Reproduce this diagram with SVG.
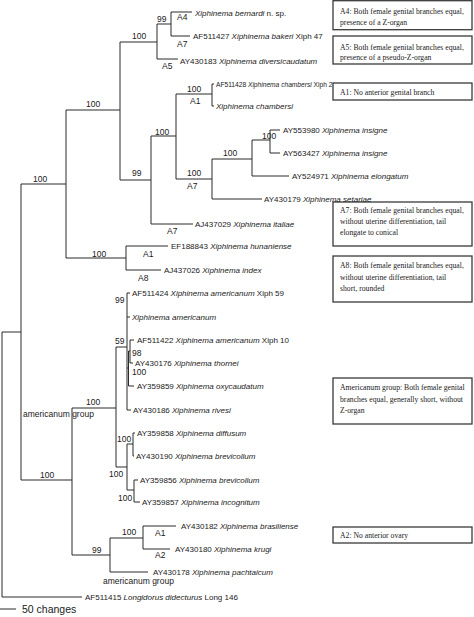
<svg xmlns="http://www.w3.org/2000/svg" width="474" height="617" viewBox="0 0 474 617">
<style>
.t{font-family:"Liberation Sans",Arial,Helvetica,sans-serif;font-size:8px;fill:#1a1a1a}
.n{font-family:"Liberation Sans",Arial,Helvetica,sans-serif;font-size:8.5px;fill:#1a1a1a}
.i{font-style:italic}
.bx{fill:#fff;stroke:#3a3a3a;stroke-width:1.3}
.bt{font-family:"Liberation Serif","Times New Roman",serif;font-size:7.7px;fill:#222}
.e{fill:none;stroke:#2a2a2a;stroke-width:1}
</style>
<rect width="474" height="617" fill="#fff"/>
<g id="box-a4"><rect class="bx" x="333" y="0.7" width="139" height="29"/>
<text class="bt" x="340" y="14">A4: Both female genital branches equal,</text>
<text class="bt" x="340" y="24.5">presence of a Z-organ</text></g>
<g id="box-a5"><rect class="bx" x="333" y="36" width="139" height="28"/>
<text class="bt" x="340" y="49.5">A5: Both female genital branches equal,</text>
<text class="bt" x="340" y="59.5">presence of a pseudo-Z-organ</text></g>
<g id="box-a1"><rect class="bx" x="333" y="83" width="139" height="17"/>
<text class="bt" x="340" y="94.5">A1: No anterior genital branch</text></g>
<g id="box-a7"><rect class="bx" x="333" y="202" width="139" height="44"/>
<text class="bt" x="340" y="213">A7: Both female genital branches equal,</text>
<text class="bt" x="340" y="224">without uterine differentiation, tail</text>
<text class="bt" x="340" y="235">elongate to conical</text></g>
<g id="box-a8"><rect class="bx" x="333" y="256" width="139" height="46"/>
<text class="bt" x="340" y="268">A8: Both female genital branches equal,</text>
<text class="bt" x="340" y="279.5">without uterine differentiation, tail</text>
<text class="bt" x="340" y="291">short, rounded</text></g>
<g id="box-americanum"><rect class="bx" x="333" y="378" width="139" height="46"/>
<text class="bt" x="340" y="390">Americanum group: Both female genital</text>
<text class="bt" x="340" y="401.5">branches equal, generally short, without</text>
<text class="bt" x="340" y="413">Z-organ</text></g>
<g id="box-a2"><rect class="bx" x="333" y="527" width="139" height="16"/>
<text class="bt" x="340" y="538">A2: No anterior ovary</text></g>
<g id="connectors">
<path class="e" d="M2,332V597M2,332H21M2,597H82
M21,184V480M21,184H66M21,480H72
M66,110V258M66,110H120M66,258H126
M120,42V180M120,42H157M120,180H151
M157,24V59M157,24H171M157,59H178
M171,12V36M171,12H192M171,36H190
M151,136V224M151,136H176M151,224H193
M176,94V179M176,94H212M176,179H212
M212,84V106M212,84H214M212,106H214
M212,159V199M212,159H252M212,199H262
M252,140V176M252,140H270M252,176H289
M270,130V153M270,130H280M270,153H280
M126,246V270M126,246H168M126,270H161
M72,408V555M72,408H116M72,555H110
M116,347V467M116,347H127M116,467H127
M127,293V410M127,293H130M127,317H130M127,368H128.5M127,410H131
M128.5,351V386M128.5,351H130M128.5,386H134
M130,340V363M130,340H134M130,363H133
M127,444V490M127,444H133M127,490H134
M133,433V456M133,433H135M133,456H134
M134,480V502M134,480H138M134,502H140
M110,538V572M110,538H143M110,572H148
M143,526V549M143,526H176M143,549H170
M0,609H16"/>
</g>
<g id="leaves">
<text class="t" x="195" y="16"><tspan class="i">Xiphinema bernardi</tspan> n. sp.</text>
<text class="t" x="193" y="39">AF511427 <tspan class="i">Xiphinema bakeri</tspan> Xiph 47</text>
<text class="t" x="180" y="64">AY430183 <tspan class="i">Xiphinema diversicaudatum</tspan></text>
<text class="t" transform="translate(216,87) scale(0.83,1)">AF511428 <tspan class="i">Xiphinema chambersi</tspan> Xiph 2</text>
<text class="t i" x="216" y="109">Xiphinema chambersi</text>
<text class="t" x="283" y="133">AY553980 <tspan class="i">Xiphinema insigne</tspan></text>
<text class="t" x="283" y="156">AY563427 <tspan class="i">Xiphinema insigne</tspan></text>
<text class="t" x="292" y="179">AY524971 <tspan class="i">Xiphinema elongatum</tspan></text>
<text class="t" x="264" y="202">AY430179 <tspan class="i">Xiphinema setariae</tspan></text>
<text class="t" x="195" y="227">AJ437029 <tspan class="i">Xiphinema italiae</tspan></text>
<text class="t" x="171" y="249">EF188843 <tspan class="i">Xiphinema hunaniense</tspan></text>
<text class="t" x="164" y="273">AJ437026 <tspan class="i">Xiphinema index</tspan></text>
<text class="t" x="132" y="296">AF511424 <tspan class="i">Xiphinema americanum</tspan> Xiph 59</text>
<text class="t i" x="132" y="320">Xiphinema americanum</text>
<text class="t" x="137" y="343">AF511422 <tspan class="i">Xiphinema americanum</tspan> Xiph 10</text>
<text class="t" x="135" y="366">AY430176 <tspan class="i">Xiphinema thornei</tspan></text>
<text class="t" x="137" y="389">AY359859 <tspan class="i">Xiphinema oxycaudatum</tspan></text>
<text class="t" x="133" y="413">AY430186 <tspan class="i">Xiphinema rivesi</tspan></text>
<text class="t" x="137" y="436">AY359858 <tspan class="i">Xiphinema diffusum</tspan></text>
<text class="t" x="136" y="459">AY430190 <tspan class="i">Xiphinema brevicollum</tspan></text>
<text class="t" x="140" y="483">AY359856 <tspan class="i">Xiphinema brevicollum</tspan></text>
<text class="t" x="142" y="505">AY359857 <tspan class="i">Xiphinema incognitum</tspan></text>
<text class="t" x="181" y="529">AY430182 <tspan class="i">Xiphinema brasiliense</tspan></text>
<text class="t" x="175" y="552">AY430180 <tspan class="i">Xiphinema krugi</tspan></text>
<text class="t" x="153" y="575">AY430178 <tspan class="i">Xiphinema pachtaicum</tspan></text>
<text class="t" x="85" y="600">AF511415 <tspan class="i">Longidorus didecturus</tspan> Long 146</text>
</g>
<g id="support">
<text class="n" x="33" y="182">100</text>
<text class="n" x="86" y="107">100</text>
<text class="n" x="132" y="39">100</text>
<text class="n" x="157" y="22">99</text>
<text class="n" x="177" y="20">A4</text>
<text class="n" x="177" y="47">A7</text>
<text class="n" x="162" y="69">A5</text>
<text class="n" x="132" y="176">99</text>
<text class="n" x="155" y="135">100</text>
<text class="n" x="187" y="92">100</text>
<text class="n" x="190" y="104">A1</text>
<text class="n" x="187" y="176">100</text>
<text class="n" x="187" y="189">A7</text>
<text class="n" x="223" y="156">100</text>
<text class="n" x="262" y="139">100</text>
<text class="n" x="167" y="234">A7</text>
<text class="n" x="92" y="257">100</text>
<text class="n" x="143" y="257">A1</text>
<text class="n" x="138" y="281">A8</text>
<text class="n" x="86" y="405">100</text>
<text class="n" x="115" y="303">99</text>
<text class="n" x="115" y="344">59</text>
<text class="n" x="132" y="356">98</text>
<text class="n" x="132" y="375">100</text>
<text class="n" x="117" y="442">100</text>
<text class="n" x="109" y="477">100</text>
<text class="n" x="118" y="501">100</text>
<text class="n" x="40" y="478">100</text>
<text class="n" x="92" y="553">99</text>
<text class="n" x="122" y="535">100</text>
<text class="n" x="155" y="536">A1</text>
<text class="n" x="155" y="558">A2</text>
<text class="n" x="23" y="417">americanum group</text>
<text class="n" x="103" y="584">americanum group</text>
<text x="22" y="613" style="font-family:'Liberation Sans',Arial,sans-serif;font-size:10.5px;fill:#1a1a1a">50 changes</text>
</g>
</svg>
